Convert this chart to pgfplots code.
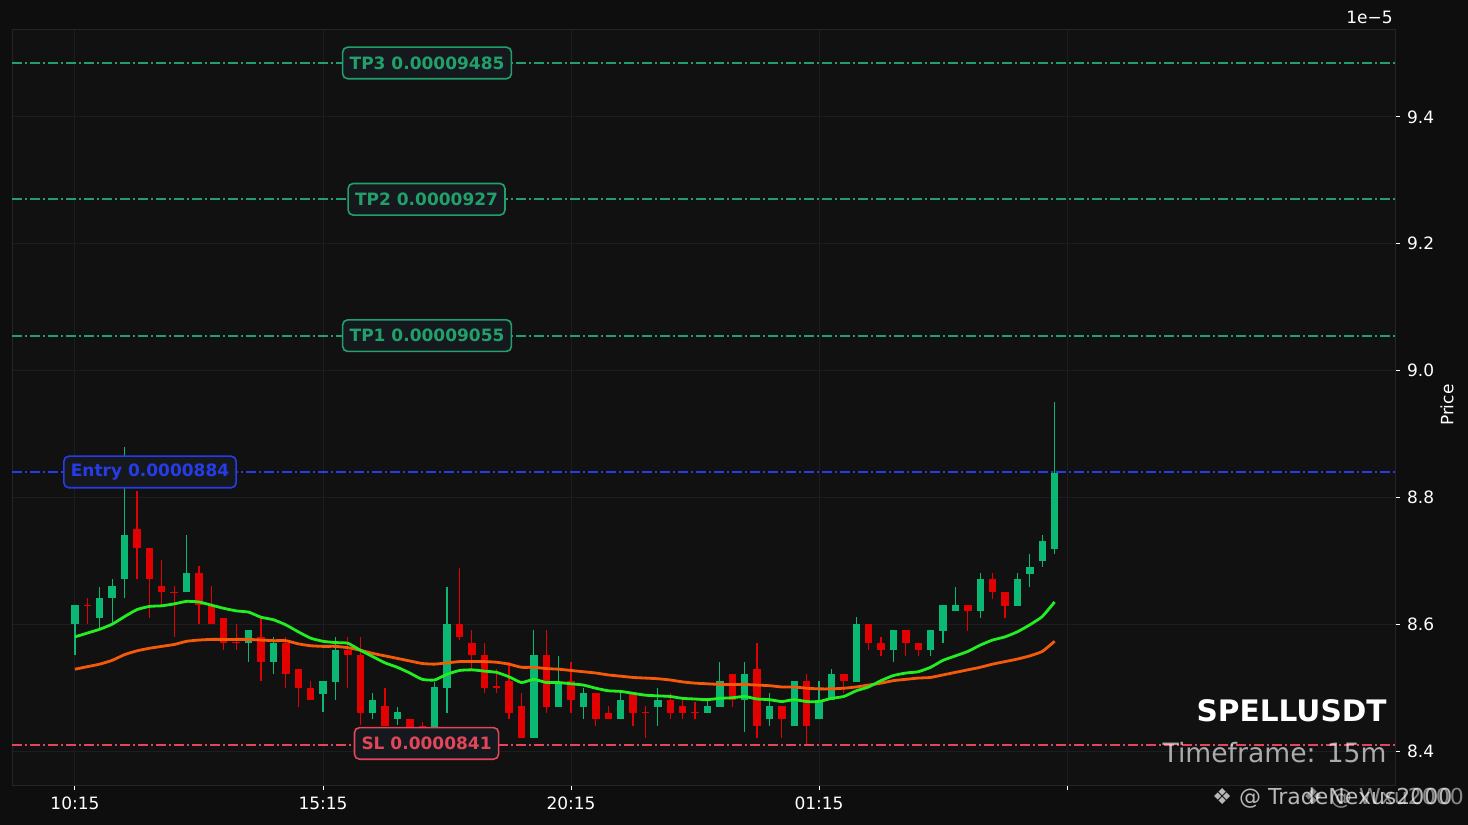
\documentclass[border=0pt]{standalone}
\usepackage{fontspec}
\setmainfont{DejaVu Sans}
\usepackage{pgfplots}
\pgfplotsset{compat=1.18}
\usepackage{pgfplotstable}

\definecolor{figbg}{RGB}{14,14,14}
\definecolor{axbg}{RGB}{17,17,17}
\definecolor{gridc}{RGB}{29,29,31}
\definecolor{framec}{RGB}{36,36,42}
\definecolor{upc}{RGB}{10,184,115}
\definecolor{dnc}{RGB}{226,0,0}
\definecolor{maf}{RGB}{34,238,34}
\definecolor{mas}{RGB}{245,90,10}
\definecolor{tpc}{RGB}{34,160,107}
\definecolor{enc}{RGB}{38,60,232}
\definecolor{slc}{RGB}{226,70,88}
\definecolor{boxbg}{RGB}{21,25,30}

\pgfplotstableread{
i o h l c
0 8.600 8.630 8.552 8.630
2 8.610 8.659 8.593 8.641
3 8.641 8.671 8.600 8.660
4 8.671 8.880 8.641 8.741
9 8.650 8.740 8.650 8.680
14 8.570 8.591 8.540 8.591
16 8.540 8.580 8.521 8.570
20 8.490 8.510 8.461 8.510
21 8.509 8.580 8.480 8.560
24 8.460 8.491 8.450 8.480
26 8.450 8.470 8.441 8.461
29 8.432 8.509 8.425 8.501
30 8.500 8.659 8.460 8.600
37 8.420 8.591 8.420 8.551
39 8.470 8.550 8.470 8.509
41 8.470 8.500 8.450 8.491
44 8.450 8.491 8.450 8.480
47 8.470 8.500 8.440 8.480
51 8.460 8.480 8.460 8.471
52 8.470 8.540 8.470 8.510
54 8.480 8.540 8.430 8.521
56 8.450 8.491 8.440 8.471
58 8.440 8.510 8.440 8.510
60 8.450 8.510 8.450 8.480
61 8.480 8.530 8.480 8.521
63 8.509 8.611 8.509 8.600
66 8.560 8.591 8.540 8.591
69 8.560 8.591 8.550 8.591
70 8.590 8.630 8.570 8.630
71 8.620 8.659 8.620 8.630
73 8.620 8.680 8.610 8.671
76 8.629 8.680 8.629 8.671
77 8.679 8.710 8.659 8.690
78 8.700 8.740 8.690 8.731
79 8.719 8.950 8.710 8.839
}\up

\pgfplotstableread{
i o h l c
1 8.631 8.641 8.600 8.629
5 8.750 8.810 8.671 8.720
6 8.720 8.720 8.610 8.671
7 8.660 8.701 8.630 8.650
8 8.651 8.660 8.580 8.649
10 8.680 8.691 8.600 8.630
11 8.630 8.660 8.600 8.600
12 8.610 8.610 8.560 8.570
13 8.572 8.600 8.560 8.570
15 8.580 8.609 8.510 8.540
17 8.570 8.580 8.500 8.521
18 8.530 8.530 8.470 8.500
19 8.500 8.510 8.480 8.480
22 8.560 8.580 8.500 8.551
23 8.551 8.580 8.441 8.460
25 8.471 8.500 8.440 8.440
27 8.450 8.450 8.425 8.433
28 8.440 8.445 8.420 8.430
31 8.600 8.689 8.575 8.580
32 8.570 8.591 8.530 8.551
33 8.551 8.570 8.491 8.500
34 8.502 8.530 8.491 8.500
35 8.510 8.540 8.450 8.460
36 8.471 8.491 8.420 8.420
38 8.551 8.591 8.460 8.470
40 8.510 8.540 8.460 8.480
42 8.491 8.491 8.440 8.450
43 8.460 8.471 8.450 8.450
45 8.491 8.491 8.440 8.460
46 8.462 8.471 8.420 8.460
48 8.480 8.491 8.450 8.460
49 8.471 8.480 8.450 8.460
50 8.462 8.478 8.450 8.460
53 8.521 8.521 8.470 8.480
55 8.530 8.570 8.420 8.440
57 8.471 8.471 8.420 8.450
59 8.510 8.521 8.409 8.440
62 8.521 8.521 8.491 8.510
64 8.600 8.600 8.560 8.570
65 8.570 8.580 8.550 8.560
67 8.591 8.591 8.550 8.570
68 8.570 8.570 8.550 8.560
72 8.630 8.630 8.590 8.620
74 8.671 8.680 8.640 8.650
75 8.650 8.650 8.610 8.629
}\down

\pgfplotstableread{
i g r
0 8.580 8.529
1 8.586 8.533
2 8.592 8.537
3 8.600 8.543
4 8.612 8.552
5 8.623 8.558
6 8.628 8.562
7 8.629 8.565
8 8.632 8.568
9 8.636 8.573
10 8.635 8.575
11 8.630 8.576
12 8.625 8.576
13 8.621 8.576
14 8.619 8.576
15 8.611 8.575
16 8.607 8.574
17 8.599 8.574
18 8.588 8.569
19 8.578 8.566
20 8.573 8.565
21 8.571 8.565
22 8.570 8.563
23 8.559 8.559
24 8.549 8.554
25 8.539 8.550
26 8.532 8.546
27 8.523 8.542
28 8.513 8.538
29 8.512 8.537
30 8.521 8.539
31 8.527 8.541
32 8.528 8.541
33 8.526 8.541
34 8.524 8.540
35 8.517 8.537
36 8.508 8.532
37 8.513 8.532
38 8.508 8.530
39 8.508 8.529
40 8.506 8.527
41 8.504 8.525
42 8.499 8.523
43 8.495 8.520
44 8.494 8.518
45 8.491 8.516
46 8.488 8.515
47 8.487 8.514
48 8.486 8.512
49 8.483 8.509
50 8.482 8.507
51 8.481 8.506
52 8.483 8.505
53 8.484 8.505
54 8.486 8.505
55 8.482 8.504
56 8.481 8.503
57 8.478 8.501
58 8.481 8.501
59 8.478 8.499
60 8.478 8.498
61 8.483 8.498
62 8.486 8.499
63 8.495 8.501
64 8.501 8.504
65 8.511 8.507
66 8.519 8.511
67 8.523 8.513
68 8.525 8.515
69 8.532 8.516
70 8.543 8.520
71 8.550 8.524
72 8.557 8.528
73 8.567 8.532
74 8.575 8.537
75 8.580 8.541
76 8.588 8.545
77 8.599 8.550
78 8.612 8.557
79 8.635 8.573
}\ma

\tikzset{lbl/.style={rounded corners=2.5bp, fill=boxbg, line width=0.8bp,
  font=\bfseries\fontsize{8.5bp}{10bp}\selectfont, inner xsep=3.5bp, inner ysep=2bp,
  minimum height=15.8bp}}
\pgfplotsset{candle/.style 2 args={draw=none, mark=none, error bars/.cd, y dir=plus, y explicit,
  error mark=none, error bar style={draw=#1, solid, line width=#2}}}

\begin{document}
\begin{tikzpicture}
\path[use as bounding box, fill=figbg] (0,0) rectangle (734bp,412.5bp);
\begin{axis}[
  at={(6bp,20bp)}, anchor=south west,
  scale only axis, width=691.5bp, height=377.5bp,
  xmin=-5.08, xmax=106.45, ymin=8.3464, ymax=9.537,
  axis background/.style={fill=axbg},
  axis line style={draw=framec, line width=0.5bp},
  clip=false,
  xtick={0,20,40,60,80}, xticklabels={10:15,15:15,20:15,01:15,{}},
  ytick={8.4,8.6,8.8,9.0,9.2,9.4}, yticklabels={8.4,8.6,8.8,9.0,9.2,9.4},
  xtick pos=bottom, ytick pos=right, yticklabel pos=right,
  tick align=outside, major tick length=2.5bp,
  major tick style={draw=white, line width=0.5bp},
  grid=major, major grid style={draw=gridc, line width=0.5bp},
  ticklabel style={font=\fontsize{8.5bp}{10bp}\selectfont, text=white},
  /pgf/number format/assume math mode=true,
]
% wicks
\addplot[candle={upc}{0.65bp}]
  table[x=i, y=l, y error expr=\thisrow{h}-\thisrow{l}] {\up};
\addplot[candle={dnc}{0.65bp}]
  table[x=i, y=l, y error expr=\thisrow{h}-\thisrow{l}] {\down};
% bodies
\addplot[candle={upc}{3.7bp}]
  table[x=i, y=o, y error expr={max(\thisrow{c}-\thisrow{o},0.0016)}] {\up};
\addplot[candle={dnc}{3.7bp}]
  table[x=i, y=c, y error expr={max(\thisrow{o}-\thisrow{c},0.0016)}] {\down};
% moving averages
\addplot[mas, line width=1.4bp, mark=none, smooth, tension=0.3] table[x=i, y=r] {\ma};
\addplot[maf, line width=1.4bp, mark=none, smooth, tension=0.3] table[x=i, y=g] {\ma};
% levels
\addplot[tpc, line width=0.9bp, dash pattern=on 5bp off 1.5bp on 1bp off 1.5bp, mark=none]
  coordinates {(-5.08,9.485) (106.45,9.485)};
\addplot[tpc, line width=0.9bp, dash pattern=on 5bp off 1.5bp on 1bp off 1.5bp, mark=none]
  coordinates {(-5.08,9.27) (106.45,9.27)};
\addplot[tpc, line width=0.9bp, dash pattern=on 5bp off 1.5bp on 1bp off 1.5bp, mark=none]
  coordinates {(-5.08,9.055) (106.45,9.055)};
\addplot[enc, line width=0.9bp, dash pattern=on 5bp off 1.5bp on 1bp off 1.5bp, mark=none]
  coordinates {(-5.08,8.84) (106.45,8.84)};
\addplot[slc, line width=0.9bp, dash pattern=on 5bp off 1.5bp on 1bp off 1.5bp, mark=none]
  coordinates {(-5.08,8.41) (106.45,8.41)};
\node[lbl, draw=tpc, text=tpc] at (axis cs:28.39,9.485) {TP3 0.00009485};
\node[lbl, draw=tpc, text=tpc] at (axis cs:28.35,9.27) {TP2 0.0000927};
\node[lbl, draw=tpc, text=tpc] at (axis cs:28.39,9.055) {TP1 0.00009055};
\node[lbl, draw=enc, text=enc] at (axis cs:6.05,8.84) {Entry 0.0000884};
\node[lbl, draw=slc, text=slc] at (axis cs:28.35,8.412) {SL 0.0000841};
% texts
\node[anchor=east, inner sep=0pt, text=white, font=\bfseries\fontsize{14.8bp}{17bp}\selectfont]
  at (rel axis cs:0.9942,0.098) {SPELLUSDT};
\node[anchor=east, inner sep=0pt, text=white, opacity=0.65, font=\fontsize{13.3bp}{16bp}\selectfont]
  at (rel axis cs:0.9942,0.0424) {Timeframe: 15m};
\node[anchor=east, inner sep=0pt, text=white, font=\fontsize{8.5bp}{10bp}\selectfont]
  at (rel axis cs:0.9986,1.0172) {1e−5};
\node[rotate=90, text=white, font=\fontsize{8.5bp}{10bp}\selectfont]
  at (rel axis cs:1.0376,0.503) {Price};
\node[anchor=west, text=white, opacity=0.7, font=\fontsize{11bp}{13bp}\selectfont, inner sep=0pt]
  at (rel axis cs:0.8677,-0.0172) {❖ @ TradeNexus2000};
\node[anchor=west, text=white, opacity=0.5, font=\fontsize{11bp}{13bp}\selectfont, inner sep=0pt]
  at (rel axis cs:0.9335,-0.0172) {❖ @ Wxu2000};
\end{axis}
\end{tikzpicture}
\end{document}
